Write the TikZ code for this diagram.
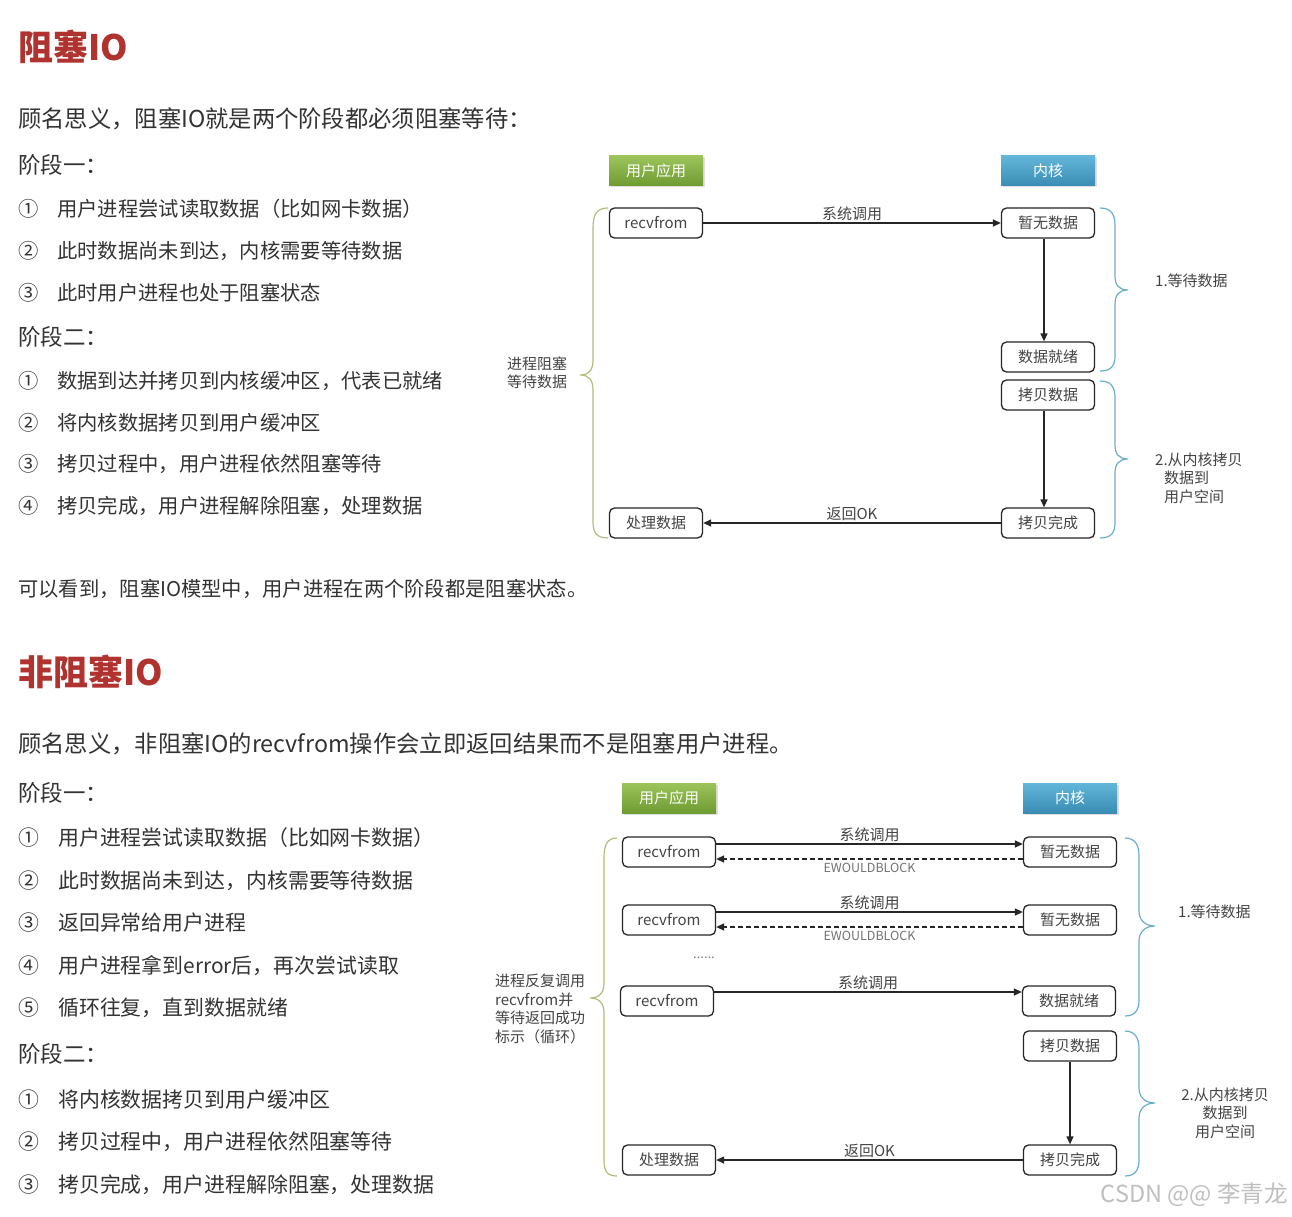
\documentclass[tikz,border=0pt]{standalone}
\usepackage{fontspec}
\setmainfont{Noto Sans CJK SC}
\usetikzlibrary{arrows.meta,shadows}
\definecolor{txt}{HTML}{333333}
\definecolor{dtxt}{HTML}{444444}
\definecolor{titlered}{HTML}{B0332F}
\definecolor{gtop}{HTML}{9CC45A}
\definecolor{gbot}{HTML}{6E9B32}
\definecolor{btop}{HTML}{62B6D8}
\definecolor{bbot}{HTML}{3A8CB4}
\definecolor{gbrace}{HTML}{B3BC7C}
\definecolor{bbrace}{HTML}{6AAFC8}
\newcommand\fIntro{\fontsize{23.3}{27}\selectfont}
\newcommand\fItem{\fontsize{20.3}{24}\selectfont}
\newcommand\fItemB{\fontsize{20.9}{24}\selectfont}
\newcommand\fStage{\fontsize{22.5}{26}\selectfont}
\newcommand\fDia{\fontsize{15}{18.5}\selectfont}
\begin{document}
\begin{tikzpicture}[x=1pt,y=-1pt,
  txtnode/.style={anchor=west,inner sep=0pt,text=txt},
  titlenode/.style={anchor=west,inner sep=0pt,text=titlered,font=\fontsize{35}{40}\selectfont\bfseries},
  box/.style={draw=black!85,line width=1.3pt,rounded corners=5pt,minimum width=93pt,minimum height=30pt,fill=white,font=\fDia,text=dtxt,inner sep=0pt},
  head/.style={minimum width=94pt,minimum height=30pt,font=\fDia,text=white,inner sep=0pt,
    drop shadow={opacity=0.25,shadow xshift=1.5pt,shadow yshift=-1.5pt}},
  greenhead/.style={head,top color=gtop,bottom color=gbot},
  bluehead/.style={head,top color=btop,bottom color=bbot},
  arr/.style={-{Triangle[length=8pt,width=7pt]},line width=1.3pt,draw=black!85},
  darr/.style={arr,dash pattern=on 5pt off 3pt},
  lbl/.style={font=\fDia,text=dtxt,inner sep=1pt},
  elbl/.style={font=\fontsize{12.5}{15}\selectfont,text=black!55,inner sep=1pt},
  gbr/.style={draw=gbrace,line width=1.2pt},
  bbr/.style={draw=bbrace,line width=1.2pt}
]
\fill[white] (0,0) rectangle (1292,1217);
\useasboundingbox (0,0) rectangle (1292,1217);

% ---------------- Section 1 ----------------
\node[titlenode] (t1) at (18,47) {阻塞IO};
\node[txtnode,font=\fIntro] (i1) at (18,119) {顾名思义，阻塞IO就是两个阶段都必须阻塞等待：};
\node[txtnode,font=\fStage] (s11) at (18,165) {阶段一：};
\node[txtnode,font=\fItem] (c111) at (18,209) {①};
\node[txtnode,font=\fItem] (p111) at (57,209) {用户进程尝试读取数据（比如网卡数据）};
\node[txtnode,font=\fItem] (c112) at (18,251) {②};
\node[txtnode,font=\fItem] (p112) at (57,251) {此时数据尚未到达，内核需要等待数据};
\node[txtnode,font=\fItem] (c113) at (18,293) {③};
\node[txtnode,font=\fItem] (p113) at (57,293) {此时用户进程也处于阻塞状态};
\node[txtnode,font=\fStage] (s12) at (18,337) {阶段二：};
\node[txtnode,font=\fItem] (c121) at (18,381) {①};
\node[txtnode,font=\fItem] (p121) at (57,381) {数据到达并拷贝到内核缓冲区，代表已就绪};
\node[txtnode,font=\fItem] (c122) at (18,423) {②};
\node[txtnode,font=\fItem] (p122) at (57,423) {将内核数据拷贝到用户缓冲区};
\node[txtnode,font=\fItem] (c123) at (18,464) {③};
\node[txtnode,font=\fItem] (p123) at (57,464) {拷贝过程中，用户进程依然阻塞等待};
\node[txtnode,font=\fItem] (c124) at (18,506) {④};
\node[txtnode,font=\fItem] (p124) at (57,506) {拷贝完成，用户进程解除阻塞，处理数据};
\node[txtnode,font=\fontsize{20.3}{25}\selectfont] (concl) at (18,589) {可以看到，阻塞IO模型中，用户进程在两个阶段都是阻塞状态。};

% diagram 1
\node[greenhead] (ua1) at (656,171) {用户应用};
\node[bluehead] (kn1) at (1048,171) {内核};
\node[box] (rf1) at (656,223) {recvfrom};
\node[box] (nd1) at (1048,223) {暂无数据};
\node[box] (rd1) at (1048,357) {数据就绪};
\node[box] (cp1) at (1048,395) {拷贝数据};
\node[box] (cd1) at (1048,523) {拷贝完成};
\node[box] (pr1) at (656,523) {处理数据};
\draw[arr] (rf1.east) -- node[lbl,midway,above=1pt] (sc1) {系统调用} (nd1.west);
\draw[arr] ([xshift=-4pt]nd1.south) -- ([xshift=-4pt]rd1.north);
\draw[arr] ([xshift=-4pt]cp1.south) -- ([xshift=-4pt]cd1.north);
\draw[arr] (cd1.west) -- node[lbl,midway,above=1pt] (ok1) {返回OK} (pr1.east);
% braces
\draw[gbr] (608,208) .. controls (597,208) and (593,214) .. (593,228) -- (593,360)
  .. controls (593,370) and (589,375) .. (580,375) .. controls (589,375) and (593,380) .. (593,390)
  -- (593,522) .. controls (593,533) and (597,538) .. (608,538);
\node[lbl,align=center] (bl1) at (537,373) {进程阻塞\\等待数据};
\draw[bbr] (1100,208) .. controls (1111,208) and (1115,214) .. (1115,226) -- (1115,276)
  .. controls (1115,285) and (1119,290) .. (1128,290) .. controls (1119,290) and (1115,295) .. (1115,304)
  -- (1115,356) .. controls (1115,366) and (1111,371) .. (1100,371);
\draw[bbr] (1100,381) .. controls (1111,381) and (1115,387) .. (1115,398) -- (1115,445)
  .. controls (1115,454) and (1119,459) .. (1128,459) .. controls (1119,459) and (1115,464) .. (1115,473)
  -- (1115,522) .. controls (1115,533) and (1111,538) .. (1100,538);
\node[lbl,anchor=west,inner sep=0pt] (w1) at (1155,281) {1.等待数据};
\node[lbl,anchor=west,inner sep=0pt,align=left] (cpl1) at (1155,478) {2.从内核拷贝\\\hspace*{9pt}数据到\\\hspace*{9pt}用户空间};

% ---------------- Section 2 ----------------
\node[titlenode] (t2) at (18,672) {非阻塞IO};
\node[txtnode,font=\fIntro] (i2) at (18,744) {顾名思义，非阻塞IO的recvfrom操作会立即返回结果而不是阻塞用户进程。};
\node[txtnode,font=\fStage] (s21) at (18,793) {阶段一：};
\node[txtnode,font=\fItemB] (c211) at (18,838) {①};
\node[txtnode,font=\fItemB] (p211) at (58,838) {用户进程尝试读取数据（比如网卡数据）};
\node[txtnode,font=\fItemB] (c212) at (18,881) {②};
\node[txtnode,font=\fItemB] (p212) at (58,881) {此时数据尚未到达，内核需要等待数据};
\node[txtnode,font=\fItemB] (c213) at (18,923) {③};
\node[txtnode,font=\fItemB] (p213) at (58,923) {返回异常给用户进程};
\node[txtnode,font=\fItemB] (c214) at (18,966) {④};
\node[txtnode,font=\fItemB] (p214) at (58,966) {用户进程拿到error后，再次尝试读取};
\node[txtnode,font=\fItemB] (c215) at (18,1008) {⑤};
\node[txtnode,font=\fItemB] (p215) at (58,1008) {循环往复，直到数据就绪};
\node[txtnode,font=\fStage] (s22) at (18,1054) {阶段二：};
\node[txtnode,font=\fItemB] (c221) at (18,1100) {①};
\node[txtnode,font=\fItemB] (p221) at (58,1100) {将内核数据拷贝到用户缓冲区};
\node[txtnode,font=\fItemB] (c222) at (18,1142) {②};
\node[txtnode,font=\fItemB] (p222) at (58,1142) {拷贝过程中，用户进程依然阻塞等待};
\node[txtnode,font=\fItemB] (c223) at (18,1185) {③};
\node[txtnode,font=\fItemB] (p223) at (58,1185) {拷贝完成，用户进程解除阻塞，处理数据};

% diagram 2
\node[greenhead] (ua2) at (669,798) {用户应用};
\node[bluehead] (kn2) at (1070,798) {内核};
\node[box] (rfa) at (669,852) {recvfrom};
\node[box] (nda) at (1070,852) {暂无数据};
\node[box] (rfb) at (669,920) {recvfrom};
\node[box] (ndb) at (1070,920) {暂无数据};
\node[box] (rfc) at (667,1001) {recvfrom};
\node[box] (rdc) at (1069,1001) {数据就绪};
\node[box] (cp2) at (1070,1046) {拷贝数据};
\node[box] (cd2) at (1070,1160) {拷贝完成};
\node[box] (pr2) at (669,1160) {处理数据};
\draw[arr] ([yshift=8pt]rfa.east) -- node[lbl,midway,above=1pt] (sca) {系统调用} ([yshift=8pt]nda.west);
\draw[darr] ([yshift=-7pt]nda.west) -- node[elbl,midway,below=2.5pt] (ewa) {EWOULDBLOCK} ([yshift=-7pt]rfa.east);
\draw[arr] ([yshift=8pt]rfb.east) -- node[lbl,midway,above=1pt] (scb) {系统调用} ([yshift=8pt]ndb.west);
\draw[darr] ([yshift=-7pt]ndb.west) -- node[elbl,midway,below=2.5pt] (ewb) {EWOULDBLOCK} ([yshift=-7pt]rfb.east);
\node[font=\fontsize{13}{14}\selectfont,text=black!50,inner sep=0pt] (dots) at (704,958) {......};
\draw[arr] ([yshift=9pt]rfc.east) -- node[lbl,midway,above=1pt] (scc) {系统调用} ([yshift=9pt]rdc.west);
\draw[arr] (cp2.south) -- (cd2.north);
\draw[arr] (cd2.west) -- node[lbl,midway,above=1pt] (ok2) {返回OK} (pr2.east);
% braces
\draw[gbr] (617,838) .. controls (607,838) and (604,845) .. (604,858) -- (604,983)
  .. controls (604,993) and (599,998) .. (590,998) .. controls (599,998) and (604,1003) .. (604,1013)
  -- (604,1160) .. controls (604,1171) and (607,1176) .. (617,1176);
\node[lbl,anchor=west,align=left,inner sep=0pt] (bl2) at (495,1009) {进程反复调用\\recvfrom并\\等待返回成功\\标示（循环）};
\draw[bbr] (1125,838) .. controls (1135,838) and (1139,845) .. (1139,856) -- (1139,911)
  .. controls (1139,920) and (1145,926) .. (1155,926) .. controls (1145,926) and (1139,932) .. (1139,941)
  -- (1139,1000) .. controls (1139,1010) and (1135,1016) .. (1125,1016);
\draw[bbr] (1125,1031) .. controls (1135,1031) and (1139,1038) .. (1139,1049) -- (1139,1088)
  .. controls (1139,1097) and (1145,1103) .. (1155,1103) .. controls (1145,1103) and (1139,1109) .. (1139,1118)
  -- (1139,1160) .. controls (1139,1170) and (1135,1176) .. (1125,1176);
\node[lbl,anchor=west,inner sep=0pt] (w2) at (1178,912) {1.等待数据};
\node[lbl,align=center,inner sep=0pt] (cpl2) at (1225,1113) {2.从内核拷贝\\数据到\\用户空间};

\node[anchor=east,inner sep=0pt,text=black!25,font=\fontsize{23.5}{27}\selectfont] (wm) at (1288,1195) {CSDN @@ 李青龙};
\end{tikzpicture}
\end{document}
